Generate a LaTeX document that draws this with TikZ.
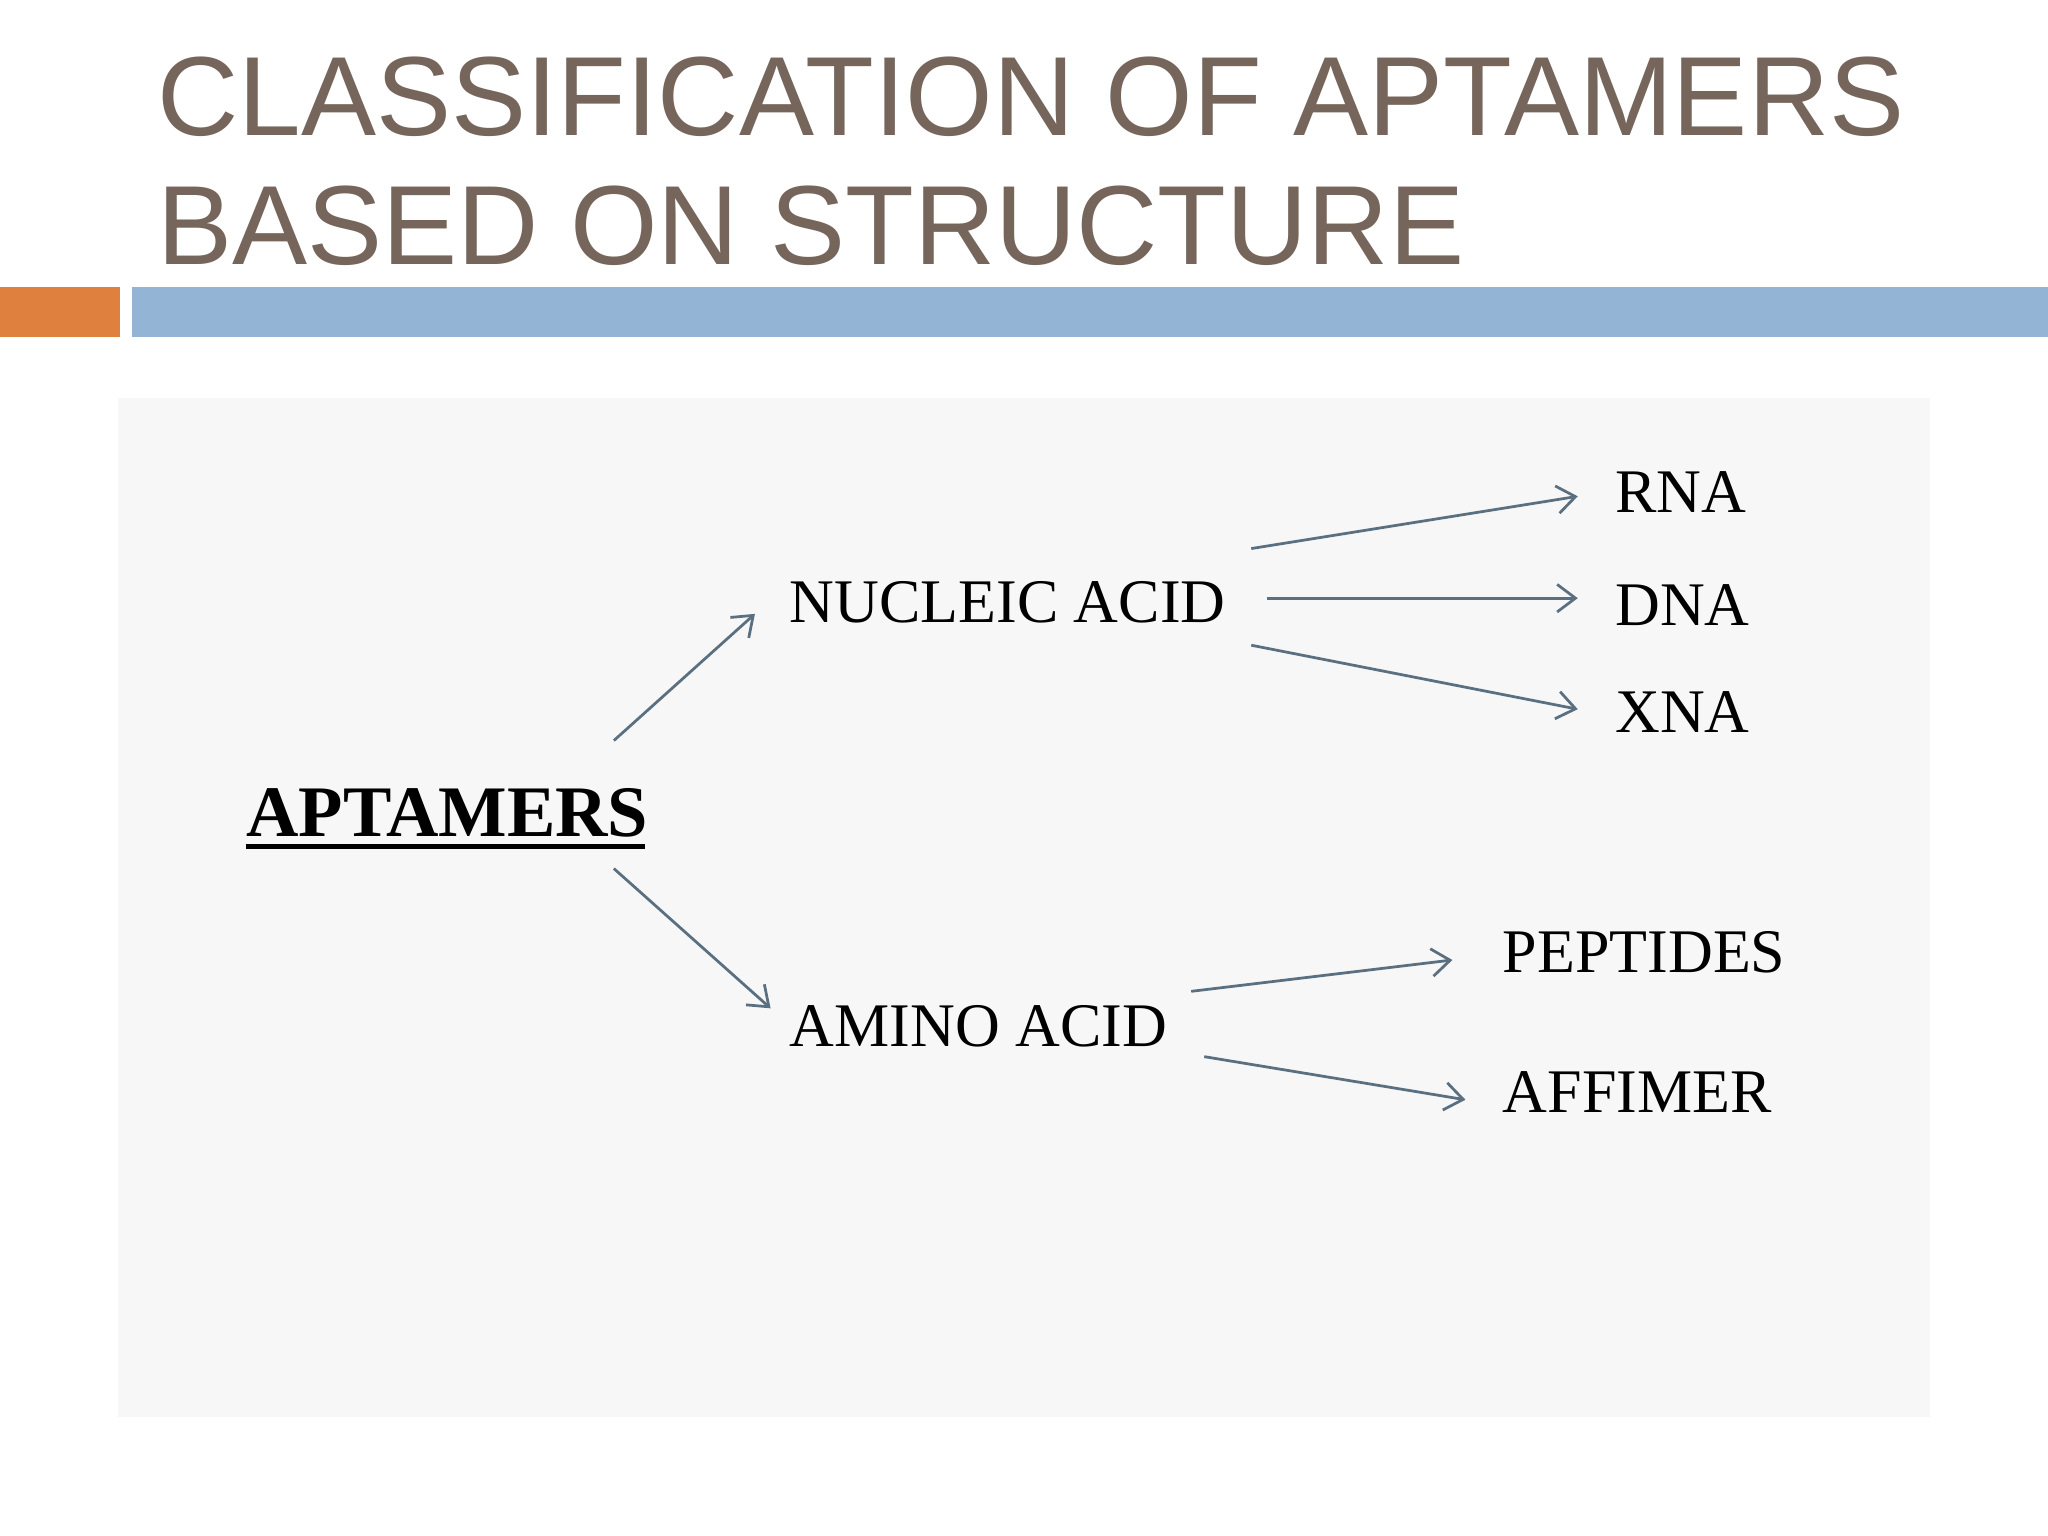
\documentclass[tikz,border=0pt]{standalone}
\usepackage{fontspec}
\setmainfont{Liberation Serif}
\newfontfamily\titlefont{Liberation Sans}
\usetikzlibrary{arrows.meta}
\definecolor{titlec}{HTML}{76655B}
\definecolor{orangebar}{HTML}{E0803F}
\definecolor{bluebar}{HTML}{93B4D4}
\definecolor{arrc}{HTML}{5A7080}
\tikzset{lbl/.style={inner sep=0pt,anchor=west,font=\fontsize{13.5}{16}\selectfont},
 arr/.style={draw=arrc,line width=0.6pt,-{Straight Barb[length=4pt,width=6pt]}}}
\begin{document}
\begin{tikzpicture}[x=0.01cm,y=-0.01cm]
\useasboundingbox (0,0) rectangle (1568,1176);
\fill[white] (0,0) rectangle (1568,1176);
\node[inner sep=0pt,anchor=north west,align=left,text=titlec,font=\titlefont\fontsize{24.5}{29}\selectfont] (title) at (120,43) {CLASSIFICATION OF APTAMERS\\[-1pt]BASED ON STRUCTURE};
\fill[orangebar] (0,220) rectangle (92,258);
\fill[bluebar] (101,220) rectangle (1568,258);
\fill[black!3] (90,305) rectangle (1478,1085);
\node[lbl,font=\bfseries\fontsize{15.8}{19}\selectfont] (apt) at (188,622) {APTAMERS};
\draw[line width=1.2pt] (188,648) -- (494,648);
\node[lbl] (nuc) at (604,461) {NUCLEIC ACID};
\node[lbl] (ami) at (604,786) {AMINO ACID};
\node[lbl] (rna) at (1236,377) {RNA};
\node[lbl] (dna) at (1236,463) {DNA};
\node[lbl] (xna) at (1236,545) {XNA};
\node[lbl] (pep) at (1150,729) {PEPTIDES};
\node[lbl] (aff) at (1150,836) {AFFIMER};
\coordinate (a1) at (470,567); \coordinate (a2) at (578,470);
\coordinate (b1) at (470,665); \coordinate (b2) at (590,772);
\draw[arr] (a1) -- (a2);
\draw[arr] (b1) -- (b2);
\draw[arr] (958,420) -- ([xshift=-28*0.01cm,yshift=-3*0.01cm]rna.west);
\draw[arr] (970,458) -- ([xshift=-28*0.01cm,yshift=5*0.01cm]dna.west);
\draw[arr] (958,494) -- ([xshift=-28*0.01cm,yshift=2*0.01cm]xna.west);
\draw[arr] (912,759) -- ([xshift=-38*0.01cm,yshift=-6*0.01cm]pep.west);
\draw[arr] (922,809) -- ([xshift=-28*0.01cm,yshift=-6*0.01cm]aff.west);
\end{tikzpicture}
\end{document}
